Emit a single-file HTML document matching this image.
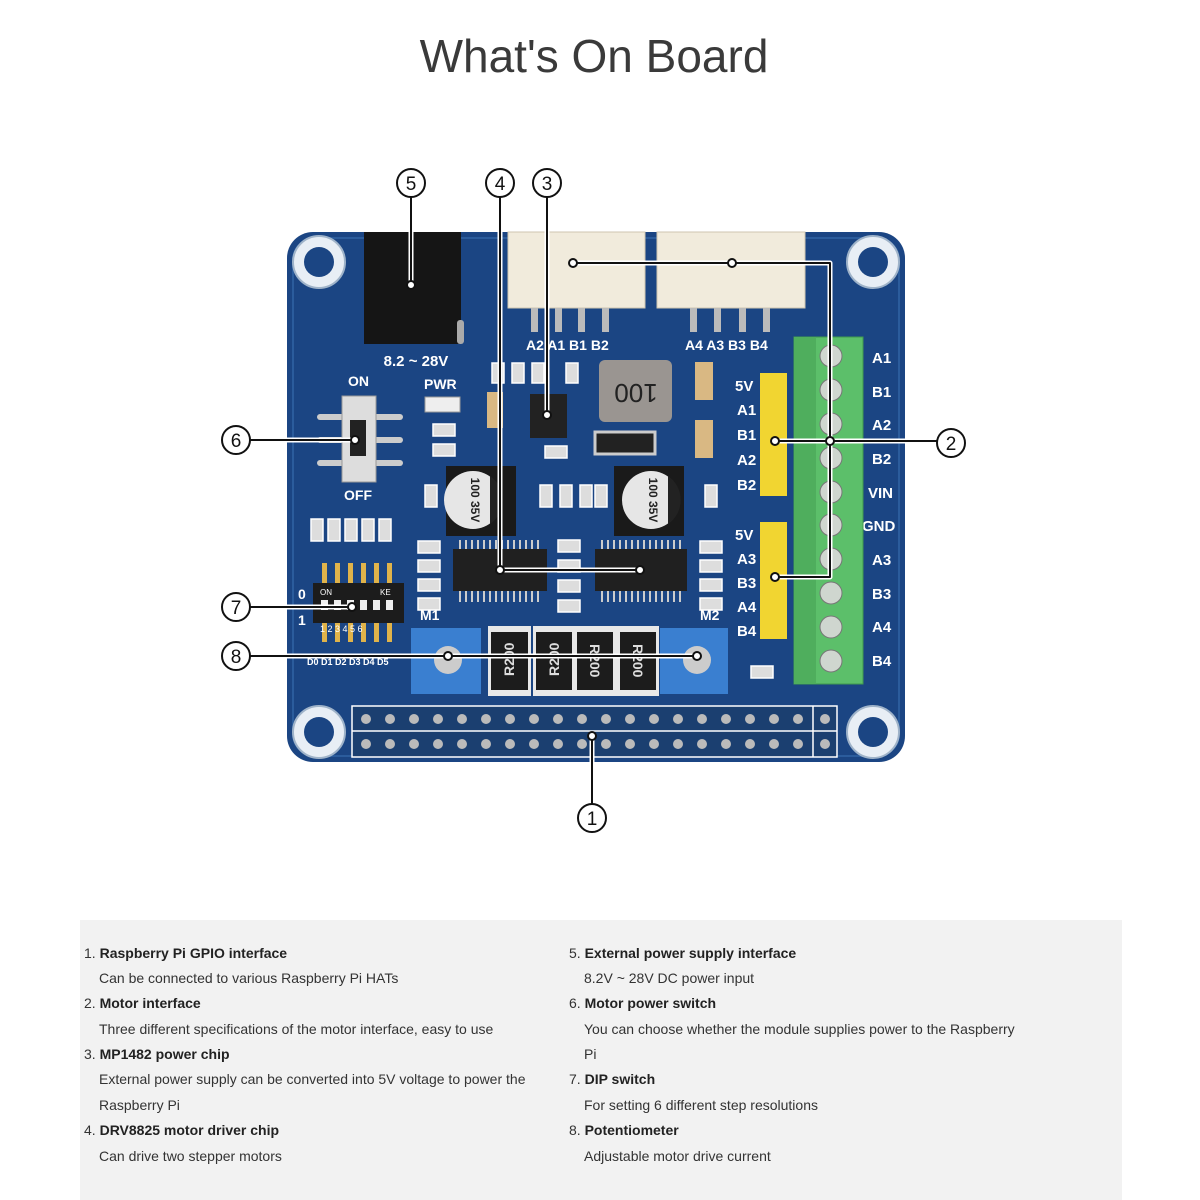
<!DOCTYPE html>
<html><head><meta charset="utf-8"><style>
body{margin:0;background:#fff;width:1200px;height:1200px;overflow:hidden;position:relative;font-family:"Liberation Sans",Arial,sans-serif}
svg{position:absolute;left:0;top:0}
.info{position:absolute;left:80px;top:920px;width:1042px;height:280px;background:#f2f2f2}
.t{position:absolute;font-size:14px;color:#333;white-space:nowrap;line-height:16px}
.t b{color:#222}
</style></head><body>
<div class="info"></div>
<svg width="1200" height="1200" viewBox="0 0 1200 1200" font-family="Liberation Sans, Arial, sans-serif">
<text x="594" y="72" font-size="46" fill="#3a3a3a" text-anchor="middle">What's On Board</text>
<!-- board -->
<rect x="287" y="232" width="618" height="530" rx="26" fill="#1b4583"/>
<rect x="293" y="238" width="606" height="518" rx="22" fill="none" stroke="#2b5c9c" stroke-width="2"/>
<g fill="#e8eef5" stroke="#9fb3c9" stroke-width="2">
<circle cx="319" cy="262" r="26"/><circle cx="873" cy="262" r="26"/><circle cx="319" cy="732" r="26"/><circle cx="873" cy="732" r="26"/></g>
<g fill="#1b4583"><circle cx="319" cy="262" r="15"/><circle cx="873" cy="262" r="15"/><circle cx="319" cy="732" r="15"/><circle cx="873" cy="732" r="15"/></g>
<!-- DC jack -->
<rect x="364" y="232" width="97" height="112" fill="#151515"/>
<rect x="457" y="320" width="7" height="24" rx="3" fill="#aaa"/>
<text x="416" y="366" font-size="15" font-weight="bold" fill="#fff" text-anchor="middle">8.2 ~ 28V</text>
<!-- white connectors -->
<rect x="508" y="232" width="137" height="76" fill="#f1ebdc" stroke="#cfc6b0"/>
<rect x="657" y="232" width="148" height="76" fill="#f1ebdc" stroke="#cfc6b0"/>
<g fill="#bbb"><rect x="531" y="308" width="7" height="24"/><rect x="555" y="308" width="7" height="24"/><rect x="578" y="308" width="7" height="24"/><rect x="602" y="308" width="7" height="24"/>
<rect x="690" y="308" width="7" height="24"/><rect x="714" y="308" width="7" height="24"/><rect x="739" y="308" width="7" height="24"/><rect x="763" y="308" width="7" height="24"/></g>
<g font-size="14" font-weight="bold" fill="#fff">
<text x="526" y="350">A2 A1 B1 B2</text><text x="685" y="350">A4 A3 B3 B4</text>
<text x="348" y="386">ON</text><text x="424" y="389">PWR</text><text x="344" y="500">OFF</text>
<text x="420" y="620">M1</text><text x="700" y="620">M2</text>
<text x="298" y="599">0</text><text x="298" y="625">1</text>
<text x="307" y="665" font-size="9">D0 D1 D2 D3 D4 D5</text>
</g>
<g font-size="15" font-weight="bold" fill="#fff">
<text x="735" y="391">5V</text><text x="737" y="415">A1</text><text x="737" y="440">B1</text><text x="737" y="465">A2</text><text x="737" y="490">B2</text>
<text x="735" y="540">5V</text><text x="737" y="564">A3</text><text x="737" y="588">B3</text><text x="737" y="612">A4</text><text x="737" y="636">B4</text>
<text x="872" y="363">A1</text><text x="872" y="397">B1</text><text x="872" y="430">A2</text><text x="872" y="464">B2</text><text x="868" y="498">VIN</text>
<text x="862" y="531">GND</text><text x="872" y="565">A3</text><text x="872" y="599">B3</text><text x="872" y="632">A4</text><text x="872" y="666">B4</text>
</g>
<rect x="425" y="397" width="35" height="15" fill="#eee" stroke="#999"/>
<g stroke="#ccc" stroke-width="6" stroke-linecap="round"><line x1="320" y1="417" x2="400" y2="417"/><line x1="320" y1="440" x2="400" y2="440"/><line x1="320" y1="463" x2="400" y2="463"/></g>
<rect x="342" y="396" width="34" height="86" fill="#ddd" stroke="#999"/>
<rect x="350" y="420" width="16" height="36" fill="#222"/>
<rect x="599" y="360" width="73" height="62" rx="6" fill="#9a9591"/>
<text x="636" y="402" font-size="26" fill="#222" text-anchor="middle" transform="rotate(180 636 393)">100</text>
<rect x="595" y="432" width="60" height="22" fill="#222" stroke="#ccc" stroke-width="3"/>
<rect x="530" y="394" width="37" height="44" fill="#222"/>
<rect x="695" y="362" width="18" height="38" fill="#d9b883"/><rect x="695" y="420" width="18" height="38" fill="#d9b883"/><rect x="487" y="392" width="16" height="36" fill="#d9b883"/>
<g fill="#ddd" stroke="#fff" stroke-width="1.5">
<rect x="492" y="363" width="12" height="20"/><rect x="512" y="363" width="12" height="20"/><rect x="532" y="363" width="12" height="20"/><rect x="566" y="363" width="12" height="20"/>
<rect x="433" y="424" width="22" height="12"/><rect x="433" y="444" width="22" height="12"/>
<rect x="425" y="485" width="12" height="22"/><rect x="540" y="485" width="12" height="22"/><rect x="560" y="485" width="12" height="22"/><rect x="580" y="485" width="12" height="22"/><rect x="595" y="485" width="12" height="22"/><rect x="705" y="485" width="12" height="22"/>
<rect x="311" y="519" width="12" height="22"/><rect x="328" y="519" width="12" height="22"/><rect x="345" y="519" width="12" height="22"/><rect x="362" y="519" width="12" height="22"/><rect x="379" y="519" width="12" height="22"/>
<rect x="418" y="541" width="22" height="12"/><rect x="418" y="560" width="22" height="12"/><rect x="418" y="579" width="22" height="12"/><rect x="418" y="598" width="22" height="12"/>
<rect x="558" y="540" width="22" height="12"/><rect x="558" y="560" width="22" height="12"/><rect x="558" y="580" width="22" height="12"/><rect x="558" y="600" width="22" height="12"/>
<rect x="700" y="541" width="22" height="12"/><rect x="700" y="560" width="22" height="12"/><rect x="700" y="579" width="22" height="12"/><rect x="700" y="598" width="22" height="12"/>
<rect x="545" y="446" width="22" height="12"/><rect x="751" y="666" width="22" height="12"/>
</g>
<rect x="446" y="466" width="70" height="70" fill="#1a1a1a"/><rect x="614" y="466" width="70" height="70" fill="#1a1a1a"/>
<circle cx="473" cy="500" r="29" fill="#e6e6e6"/><path d="M490 476 A29 29 0 0 1 490 524 Z" fill="#222"/>
<circle cx="651" cy="500" r="29" fill="#e6e6e6"/><path d="M668 476 A29 29 0 0 1 668 524 Z" fill="#222"/>
<text x="467" y="496" font-size="12" font-weight="bold" fill="#222" text-anchor="middle" transform="rotate(90 467 500)">100 35V</text>
<text x="645" y="496" font-size="12" font-weight="bold" fill="#222" text-anchor="middle" transform="rotate(90 645 500)">100 35V</text>
<g stroke="#ccc" stroke-width="2"><path d="M460 540 V550 M466 540 V550 M472 540 V550 M478 540 V550 M484 540 V550 M490 540 V550 M496 540 V550 M502 540 V550 M508 540 V550 M514 540 V550 M520 540 V550 M526 540 V550 M532 540 V550 M538 540 V550"/>
<path d="M460 590 V602 M466 590 V602 M472 590 V602 M478 590 V602 M484 590 V602 M490 590 V602 M496 590 V602 M502 590 V602 M508 590 V602 M514 590 V602 M520 590 V602 M526 590 V602 M532 590 V602 M538 590 V602"/>
<path d="M602 540 V550 M608 540 V550 M614 540 V550 M620 540 V550 M626 540 V550 M632 540 V550 M638 540 V550 M644 540 V550 M650 540 V550 M656 540 V550 M662 540 V550 M668 540 V550 M674 540 V550 M680 540 V550"/>
<path d="M602 590 V602 M608 590 V602 M614 590 V602 M620 590 V602 M626 590 V602 M632 590 V602 M638 590 V602 M644 590 V602 M650 590 V602 M656 590 V602 M662 590 V602 M668 590 V602 M674 590 V602 M680 590 V602"/></g>
<rect x="453" y="549" width="94" height="42" fill="#202020"/><rect x="595" y="549" width="92" height="42" fill="#202020"/>
<g fill="#e0b34a"><rect x="322" y="563" width="5" height="20"/><rect x="335" y="563" width="5" height="20"/><rect x="348" y="563" width="5" height="20"/><rect x="361" y="563" width="5" height="20"/><rect x="374" y="563" width="5" height="20"/><rect x="387" y="563" width="5" height="20"/>
<rect x="322" y="622" width="5" height="20"/><rect x="335" y="622" width="5" height="20"/><rect x="348" y="622" width="5" height="20"/><rect x="361" y="622" width="5" height="20"/><rect x="374" y="622" width="5" height="20"/><rect x="387" y="622" width="5" height="20"/></g>
<rect x="313" y="583" width="91" height="40" fill="#1c1c1c"/>
<g fill="#eee"><rect x="321" y="600" width="7" height="10"/><rect x="334" y="600" width="7" height="10"/><rect x="347" y="600" width="7" height="10"/><rect x="360" y="600" width="7" height="10"/><rect x="373" y="600" width="7" height="10"/><rect x="386" y="600" width="7" height="10"/></g>
<text x="320" y="595" font-size="8" fill="#fff">ON</text><text x="380" y="595" font-size="8" fill="#fff">KE</text>
<text x="320" y="632" font-size="9" fill="#fff">1 2 3 4 5 6</text>
<rect x="411" y="628" width="70" height="66" fill="#3a7fd0"/><rect x="660" y="628" width="68" height="66" fill="#3a7fd0"/>
<circle cx="448" cy="660" r="14" fill="#ccc"/><circle cx="697" cy="660" r="14" fill="#ccc"/>
<g fill="#e8e8e8"><rect x="488" y="626" width="43" height="70"/><rect x="533" y="626" width="42" height="70"/><rect x="574" y="626" width="42" height="70"/><rect x="616" y="626" width="43" height="70"/></g>
<g fill="#1c1c1c"><rect x="491" y="632" width="37" height="58"/><rect x="536" y="632" width="36" height="58"/><rect x="577" y="632" width="36" height="58"/><rect x="620" y="632" width="36" height="58"/></g>
<g font-size="14" fill="#ddd" font-weight="bold">
<text transform="translate(514 676) rotate(-90)">R200</text><text transform="translate(559 676) rotate(-90)">R200</text>
<text transform="translate(590 644) rotate(90)">R200</text><text transform="translate(633 644) rotate(90)">R200</text></g>
<rect x="760" y="373" width="27" height="123" fill="#f1d531"/><rect x="760" y="522" width="27" height="117" fill="#f1d531"/>
<rect x="794" y="337" width="69" height="347" fill="#5cbf6a" stroke="#3f9a4e"/>
<rect x="794" y="337" width="22" height="347" fill="#4fae5d"/>
<g fill="#cfd6cf" stroke="#777"><circle cx="831" cy="356" r="11"/><circle cx="831" cy="390" r="11"/><circle cx="831" cy="424" r="11"/><circle cx="831" cy="458" r="11"/><circle cx="831" cy="492" r="11"/><circle cx="831" cy="525" r="11"/><circle cx="831" cy="559" r="11"/><circle cx="831" cy="593" r="11"/><circle cx="831" cy="627" r="11"/><circle cx="831" cy="661" r="11"/></g>
<rect x="352" y="706" width="485" height="51" fill="#1b3f70" stroke="#fff" stroke-width="1.5"/>
<line x1="352" y1="731" x2="837" y2="731" stroke="#fff" stroke-width="1.5"/><line x1="813" y1="706" x2="813" y2="757" stroke="#fff" stroke-width="1.5"/>
<g fill="#bbb">
<circle cx="366" cy="719" r="5"/><circle cx="390" cy="719" r="5"/><circle cx="414" cy="719" r="5"/><circle cx="438" cy="719" r="5"/><circle cx="462" cy="719" r="5"/><circle cx="486" cy="719" r="5"/><circle cx="510" cy="719" r="5"/><circle cx="534" cy="719" r="5"/><circle cx="558" cy="719" r="5"/><circle cx="582" cy="719" r="5"/><circle cx="606" cy="719" r="5"/><circle cx="630" cy="719" r="5"/><circle cx="654" cy="719" r="5"/><circle cx="678" cy="719" r="5"/><circle cx="702" cy="719" r="5"/><circle cx="726" cy="719" r="5"/><circle cx="750" cy="719" r="5"/><circle cx="774" cy="719" r="5"/><circle cx="798" cy="719" r="5"/><circle cx="825" cy="719" r="5"/>
<circle cx="366" cy="744" r="5"/><circle cx="390" cy="744" r="5"/><circle cx="414" cy="744" r="5"/><circle cx="438" cy="744" r="5"/><circle cx="462" cy="744" r="5"/><circle cx="486" cy="744" r="5"/><circle cx="510" cy="744" r="5"/><circle cx="534" cy="744" r="5"/><circle cx="558" cy="744" r="5"/><circle cx="582" cy="744" r="5"/><circle cx="606" cy="744" r="5"/><circle cx="630" cy="744" r="5"/><circle cx="654" cy="744" r="5"/><circle cx="678" cy="744" r="5"/><circle cx="702" cy="744" r="5"/><circle cx="726" cy="744" r="5"/><circle cx="750" cy="744" r="5"/><circle cx="774" cy="744" r="5"/><circle cx="798" cy="744" r="5"/><circle cx="825" cy="744" r="5"/></g>
<g fill="none" stroke-linejoin="round">
<g stroke="#fff" stroke-width="5">
<path d="M411 197V285"/><path d="M500 197V570H640"/><path d="M547 197V415"/>
<path d="M573 263H830V577H775M775 441H937"/><path d="M250 440H355"/><path d="M250 607H352"/><path d="M250 656H697"/><path d="M592 804V736"/></g>
<g stroke="#111" stroke-width="2">
<path d="M411 197V285"/><path d="M500 197V570H640"/><path d="M547 197V415"/>
<path d="M573 263H830V577H775M775 441H937"/><path d="M250 440H355"/><path d="M250 607H352"/><path d="M250 656H697"/><path d="M592 804V736"/></g></g>
<g fill="#fff" stroke="#111" stroke-width="2">
<circle cx="411" cy="285" r="4"/><circle cx="500" cy="570" r="4"/><circle cx="640" cy="570" r="4"/><circle cx="547" cy="415" r="4"/>
<circle cx="573" cy="263" r="4"/><circle cx="732" cy="263" r="4"/><circle cx="830" cy="441" r="4"/><circle cx="775" cy="441" r="4"/><circle cx="775" cy="577" r="4"/>
<circle cx="355" cy="440" r="4"/><circle cx="352" cy="607" r="4"/><circle cx="448" cy="656" r="4"/><circle cx="697" cy="656" r="4"/><circle cx="592" cy="736" r="4"/></g>
<g fill="#fff" stroke="#111" stroke-width="2">
<circle cx="411" cy="183" r="14"/><circle cx="500" cy="183" r="14"/><circle cx="547" cy="183" r="14"/><circle cx="951" cy="443" r="14"/>
<circle cx="236" cy="440" r="14"/><circle cx="236" cy="607" r="14"/><circle cx="236" cy="656" r="14"/><circle cx="592" cy="818" r="14"/></g>
<g font-size="19" fill="#111" text-anchor="middle">
<text x="411" y="190">5</text><text x="500" y="190">4</text><text x="547" y="190">3</text><text x="951" y="450">2</text>
<text x="236" y="447">6</text><text x="236" y="614">7</text><text x="236" y="663">8</text><text x="592" y="825">1</text></g>
</svg>
<div class="t" style="left:84px;top:945px">1. <b>Raspberry Pi GPIO interface</b></div>
<div class="t" style="left:99px;top:970px">Can be connected to various Raspberry Pi HATs</div>
<div class="t" style="left:84px;top:995px">2. <b>Motor interface</b></div>
<div class="t" style="left:99px;top:1021px">Three different specifications of the motor interface, easy to use</div>
<div class="t" style="left:84px;top:1046px">3. <b>MP1482 power chip</b></div>
<div class="t" style="left:99px;top:1071px">External power supply can be converted into 5V voltage to power the</div>
<div class="t" style="left:99px;top:1097px">Raspberry Pi</div>
<div class="t" style="left:84px;top:1122px">4. <b>DRV8825 motor driver chip</b></div>
<div class="t" style="left:99px;top:1148px">Can drive two stepper motors</div>
<div class="t" style="left:569px;top:945px">5. <b>External power supply interface</b></div>
<div class="t" style="left:584px;top:970px">8.2V ~ 28V DC power input</div>
<div class="t" style="left:569px;top:995px">6. <b>Motor power switch</b></div>
<div class="t" style="left:584px;top:1021px">You can choose whether the module supplies power to the Raspberry</div>
<div class="t" style="left:584px;top:1046px">Pi</div>
<div class="t" style="left:569px;top:1071px">7. <b>DIP switch</b></div>
<div class="t" style="left:584px;top:1097px">For setting 6 different step resolutions</div>
<div class="t" style="left:569px;top:1122px">8. <b>Potentiometer</b></div>
<div class="t" style="left:584px;top:1148px">Adjustable motor drive current</div>
</body></html>
